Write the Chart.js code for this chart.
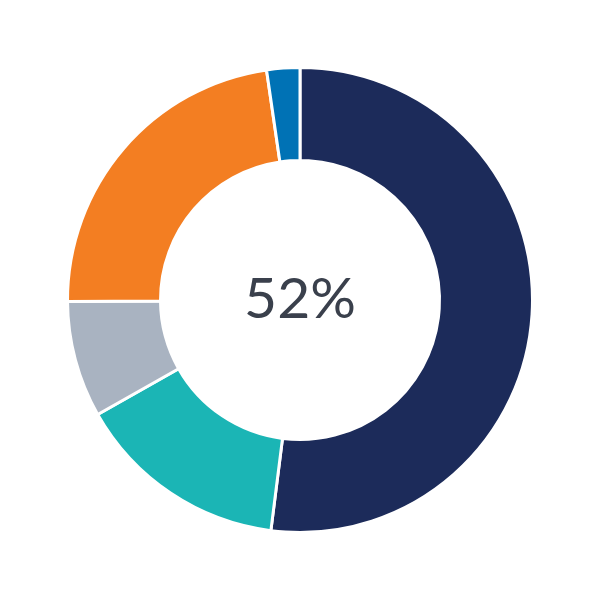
<!DOCTYPE html>
<html>
<head>
<meta charset="utf-8">
<script src="https://cdn.jsdelivr.net/npm/chart.js@4"></script>
<style>
  html, body { margin: 0; padding: 0; background: #fff; }
  #wrap { width: 600px; height: 600px; }
</style>
</head>
<body>
<div id="wrap"><canvas id="donut"></canvas></div>
<script>
const segmentLabels = ['Navy', 'Teal', 'Grey', 'Orange', 'Blue'];
const segmentValues = [52, 14.8, 8.1, 22.8, 2.3];
const segmentColors = ['#1c2b5a', '#1bb5b5', '#a9b3c1', '#f37e22', '#0072b5'];
const centerText = '52%';

const centerLabel = {
    id: 'centerLabel',
    afterDraw(chart) {
        const ctx = chart.ctx;
        const area = chart.chartArea;
        ctx.save();
        ctx.font = '400 57px Lato, "Open Sans", sans-serif';
        ctx.fillStyle = '#3a404c';
        ctx.textAlign = 'center';
        ctx.textBaseline = 'middle';
        ctx.fillText(centerText, (area.left + area.right) / 2, (area.top + area.bottom) / 2);
        ctx.restore();
    }
};

new Chart(document.getElementById('donut').getContext('2d'), {
    type: 'doughnut',
    data: {
        labels: segmentLabels,
        datasets: [{
            data: segmentValues,
            backgroundColor: segmentColors,
            borderColor: '#ffffff',
            borderWidth: 3
        }]
    },
    options: {
        responsive: true,
        maintainAspectRatio: false,
        animation: false,
        cutout: '60%',
        layout: { padding: 66 },
        plugins: {
            legend: { display: false },
            tooltip: { enabled: false }
        }
    },
    plugins: [centerLabel]
});
</script>
</body>
</html>
